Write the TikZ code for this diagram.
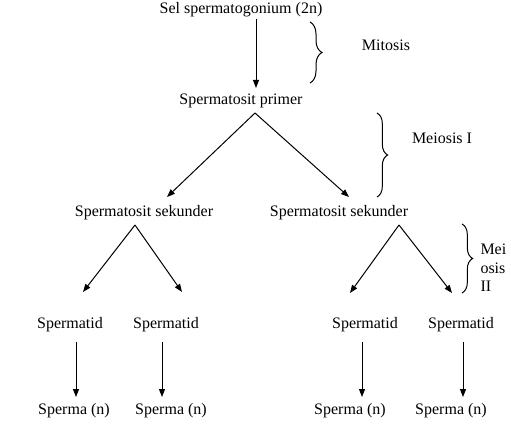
\documentclass[tikz,border=0pt]{standalone}
\usepackage{fontspec}
\setmainfont{Liberation Serif}
\usetikzlibrary{arrows.meta,decorations.pathreplacing}

\tikzset{every picture/.style={line width=0.75pt}}
\tikzset{
  arr/.style={-{Triangle[length=6pt,width=4.5pt]}},
  brc/.style={decorate,decoration={brace,amplitude=#1}},
  lbl/.style={inner sep=0pt,font=\fontsize{12}{14}\selectfont}
}

\begin{document}
\begin{tikzpicture}[x=0.75pt,y=0.75pt,yscale=-1,xscale=1]
\useasboundingbox (0,0) rectangle (511,428);

%Cell labels
\node [lbl] (gon) at (241,10) {Sel spermatogonium (2n)};
\node [lbl] (prim) at (241,101) {Spermatosit primer};
\node [lbl] (sekA) at (144,213) {Spermatosit sekunder};
\node [lbl] (sekB) at (339,213) {Spermatosit sekunder};
\node [lbl] (tidA) at (70,325) {Spermatid};
\node [lbl] (tidB) at (166,325) {Spermatid};
\node [lbl] (tidC) at (365,325) {Spermatid};
\node [lbl] (tidD) at (461,325) {Spermatid};
\node [lbl] (spA) at (74,411) {Sperma (n)};
\node [lbl] (spB) at (171,411) {Sperma (n)};
\node [lbl] (spC) at (350,411) {Sperma (n)};
\node [lbl] (spD) at (451,411) {Sperma (n)};

%Arrow ends
\coordinate (g0) at (256,19);
\coordinate (g1) at (256,88);
\coordinate (p0) at (255,113);
\coordinate (p1) at (167,197);
\coordinate (p2) at (349,197);
\coordinate (a0) at (135,225);
\coordinate (a1) at (83,292);
\coordinate (a2) at (182,292);
\coordinate (b0) at (399,225);
\coordinate (b1) at (350,293);
\coordinate (b2) at (452,293);
\coordinate (s1) at (76,342);
\coordinate (s2) at (162,342);
\coordinate (s3) at (362,342);
\coordinate (s4) at (463,342);
\coordinate (e1) at (76,397);
\coordinate (e2) at (162,397);
\coordinate (e3) at (362,397);
\coordinate (e4) at (463,397);

%Straight Lines
\draw [arr] (g0) -- (g1);
\draw [arr] (p0) -- (p1);
\draw [arr] (p0) -- (p2);
\draw [arr] (a0) -- (a1);
\draw [arr] (a0) -- (a2);
\draw [arr] (b0) -- (b1);
\draw [arr] (b0) -- (b2);
\draw [arr] (s1) -- (e1);
\draw [arr] (s2) -- (e2);
\draw [arr] (s3) -- (e3);
\draw [arr] (s4) -- (e4);

%Braces
\draw [brc=9pt] (310,22) -- (310,83);
\draw [brc=8pt] (377,113) -- (377,197);
\draw [brc=8pt] (462,224) -- (462,293);

\node [lbl] (mit) at (386,45) {Mitosis};
\node [lbl] (mei1) at (442,138) {Meiosis I};
\node [lbl,anchor=west,align=left] (mei2) at (480,268) {Mei\\osis\\II};

\end{tikzpicture}
\end{document}
